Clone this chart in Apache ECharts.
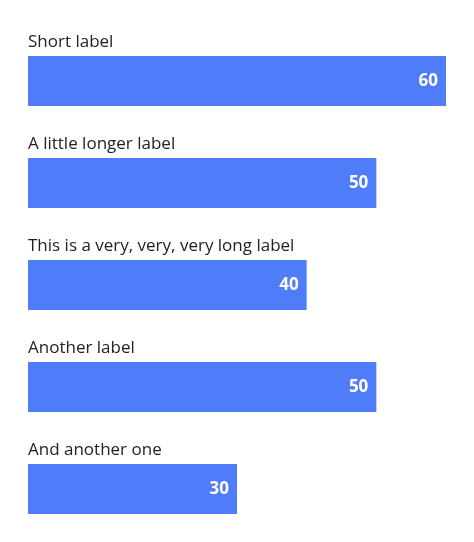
<!DOCTYPE html><html><head><meta charset="utf-8"><script src="https://cdn.jsdelivr.net/npm/echarts@6/dist/echarts.min.js"></script>
<style>html,body{margin:0;background:#fff}#c{width:474px;height:542px}</style></head><body><div id="c"></div><script>
const categories=["Short label","A little longer label","This is a very, very, very long label","Another label","And another one"];
const values=[60,50,40,50,30];
const chart=echarts.init(document.getElementById('c'));
chart.setOption({
 animation:false,
 grid:{left:28,right:28,top:30,height:510},
 xAxis:{type:'value',min:0,max:60,show:false},
 yAxis:{type:'category',data:categories,inverse:true,axisLine:{show:false},axisTick:{show:false},
  axisLabel:{inside:true,margin:0,align:'left',verticalAlign:'bottom',padding:[0,0,30,0],fontFamily:'Open Sans',fontSize:17,color:'#222'}},
 series:[{type:'bar',data:values,barWidth:50,itemStyle:{color:'#4f7df9'},
  label:{show:true,position:'insideRight',distance:8,color:'#fff',fontWeight:'bold',fontFamily:'Open Sans',fontSize:17}}]
});
</script></body></html>
